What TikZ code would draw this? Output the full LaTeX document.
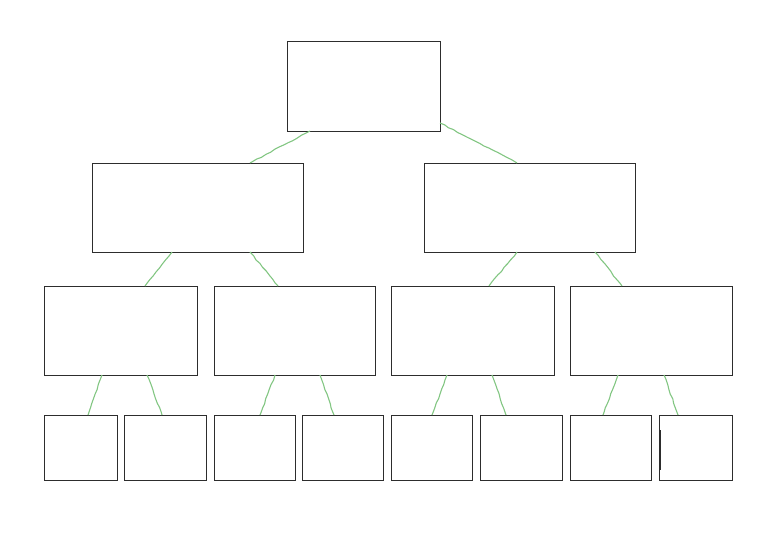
\documentclass[tikz,border=0pt]{standalone}
\usetikzlibrary{decorations.pathmorphing}
\definecolor{linkgreen}{RGB}{130,198,130}
\definecolor{boxgray}{RGB}{45,45,45}
\tikzset{
  box/.style={draw=boxgray,line width=1pt,rectangle,inner sep=0pt,outer sep=0pt,fill=white},
  link/.style={draw=linkgreen,line width=1.1pt,decorate,decoration={random steps,segment length=5pt,amplitude=0.5pt}}
}
\begin{document}
\begin{tikzpicture}[x=1pt,y=-1pt]
\useasboundingbox (0,0) rectangle (768,543);
% level 1
\node[box,minimum width=153pt,minimum height=89pt] (root) at (363.5,86.5) {};
% level 2
\node[box,minimum width=211pt,minimum height=89pt] (l2l) at (197.5,207.5) {};
\node[box,minimum width=211pt,minimum height=89pt] (l2r) at (529.5,207.5) {};
% level 3
\node[box,minimum width=153pt,minimum height=89pt] (l3a) at (120.5,330.5) {};
\node[box,minimum width=161pt,minimum height=89pt] (l3b) at (294.5,330.5) {};
\node[box,minimum width=163pt,minimum height=89pt] (l3c) at (472.5,330.5) {};
\node[box,minimum width=162pt,minimum height=89pt] (l3d) at (651,330.5) {};
% level 4
\node[box,minimum width=73pt,minimum height=65pt] (l4a) at (80.5,447.5) {};
\node[box,minimum width=82pt,minimum height=65pt] (l4b) at (165,447.5) {};
\node[box,minimum width=81pt,minimum height=65pt] (l4c) at (254.5,447.5) {};
\node[box,minimum width=81pt,minimum height=65pt] (l4d) at (342.5,447.5) {};
\node[box,minimum width=81pt,minimum height=65pt] (l4e) at (431.5,447.5) {};
\node[box,minimum width=82pt,minimum height=65pt] (l4f) at (521,447.5) {};
\node[box,minimum width=81pt,minimum height=65pt] (l4g) at (610.5,447.5) {};
\node[box,minimum width=73pt,minimum height=65pt] (l4h) at (695.5,447.5) {};
% thick mark on last box
\coordinate (mk1) at ([yshift=-15pt]l4h.north west);
\coordinate (mk2) at ([yshift=10pt]l4h.south west);
\draw[boxgray,line width=1.6pt] ([xshift=0.8pt]mk1) -- ([xshift=0.8pt]mk2);
% connectors
\path[link] ([xshift=23pt]root.south west) -- ([xshift=158pt]l2l.north west);
\path[link] ([yshift=8pt]root.south east) -- ([xshift=93pt]l2r.north west);
\path[link] ([xshift=80pt]l2l.south west) -- ([xshift=101pt]l3a.north west);
\path[link] ([xshift=158pt]l2l.south west) -- ([xshift=64pt]l3b.north west);
\path[link] ([xshift=93pt]l2r.south west) -- ([xshift=98pt]l3c.north west);
\path[link] ([xshift=171pt]l2r.south west) -- ([xshift=52pt]l3d.north west);
\path[link] ([xshift=58pt]l3a.south west) -- ([xshift=44pt]l4a.north west);
\path[link] ([xshift=103pt]l3a.south west) -- ([xshift=38pt]l4b.north west);
\path[link] ([xshift=61pt]l3b.south west) -- ([xshift=46pt]l4c.north west);
\path[link] ([xshift=106pt]l3b.south west) -- ([xshift=32pt]l4d.north west);
\path[link] ([xshift=56pt]l3c.south west) -- ([xshift=41pt]l4e.north west);
\path[link] ([xshift=101pt]l3c.south west) -- ([xshift=26pt]l4f.north west);
\path[link] ([xshift=48pt]l3d.south west) -- ([xshift=33pt]l4g.north west);
\path[link] ([xshift=94pt]l3d.south west) -- ([xshift=19pt]l4h.north west);
\end{tikzpicture}
\end{document}
